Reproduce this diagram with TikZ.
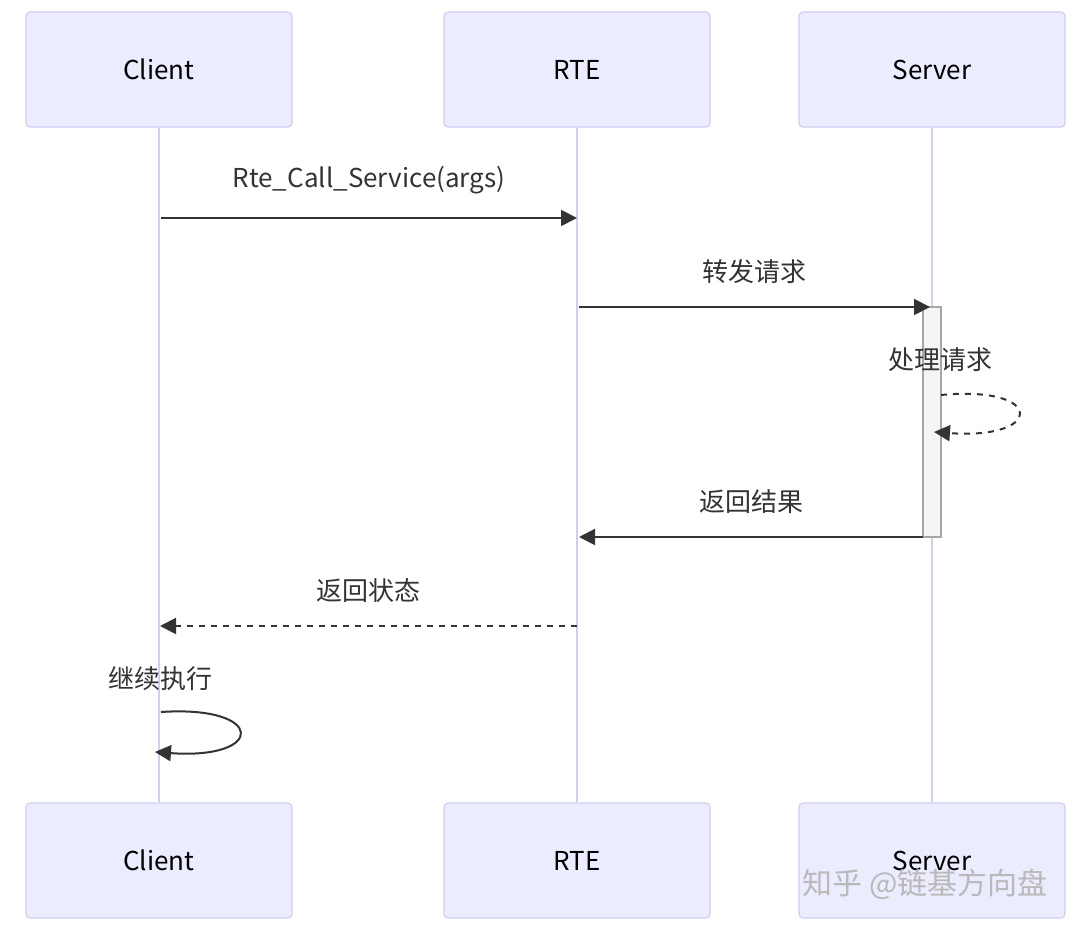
\documentclass[tikz,border=0pt]{standalone}
\usepackage{fontspec}
\setmainfont{Noto Sans CJK SC}
\usetikzlibrary{arrows.meta, positioning}
\definecolor{boxfill}{HTML}{ECECFF}
\definecolor{boxline}{HTML}{D3CDF2}
\definecolor{ink}{HTML}{333333}
\begin{document}
\begin{tikzpicture}[x=0.5pt, y=-0.5pt, font=\fontsize{13}{15}\selectfont,
  actor/.style={draw=boxline, fill=boxfill, rounded corners=2pt, minimum width=133pt, minimum height=57.5pt, text=black, line width=0.6pt},
  life/.style={boxline, line width=1.4pt},
  msg/.style={ink, line width=1pt, -{Triangle[length=8pt, width=8pt]}},
  lbl/.style={text=ink}]
\useasboundingbox (0,0) rectangle (1083,930);

\node[actor] (c0) at (159,69.5) {Client};
\node[actor] (r0) at (577,69.5) {RTE};
\node[actor] (s0) at (932,69.5) {Server};
\node[actor] (c1) at (159,860.5) {Client};
\node[actor] (r1) at (577,860.5) {RTE};
\node[actor] (s1) at (932,860.5) {Server};

\draw[life] (c0) -- (c1);
\draw[life] (r0) -- (r1);
\draw[life] (s0) -- (s1);

\node[draw=gray!70, fill=gray!8, minimum width=9pt, minimum height=115pt, inner sep=0pt, line width=0.6pt] (act) at (932,422) {};

\coordinate (m1a) at (161,218); \coordinate (m1b) at (577,218);
\coordinate (m2a) at (579,307); \coordinate (m2b) at (930,307);
\coordinate (p1) at (941,395);  \coordinate (p2) at (934,432);
\coordinate (m3a) at (923,537); \coordinate (m3b) at (579,537);
\coordinate (m4a) at (577,626); \coordinate (m4b) at (160,626);
\coordinate (k1) at (161,712);  \coordinate (k2) at (155,752);

\draw[msg] (m1a) -- node[lbl, above=8pt] {Rte\_Call\_Service(args)} (m1b);
\draw[msg] (m2a) -- node[lbl, above=8pt] {转发请求} (m2b);
\draw[msg, dashed] (p1) .. controls (1045,385) and (1045,440) .. (p2);
\node[lbl] (t2) at (940,360) {处理请求};
\draw[msg] (m3a) -- node[lbl, above=8pt] {返回结果} (m3b);
\draw[msg, dashed] (m4a) -- node[lbl, above=8pt] {返回状态} (m4b);
\draw[msg] (k1) .. controls (266,705) and (266,760) .. (k2);
\node[lbl] (t4) at (160,679) {继续执行};

\node[text=gray!55, font=\fontsize{15}{17}\selectfont] (wm) at (925,884) {知乎 @链基方向盘};
\end{tikzpicture}
\end{document}
